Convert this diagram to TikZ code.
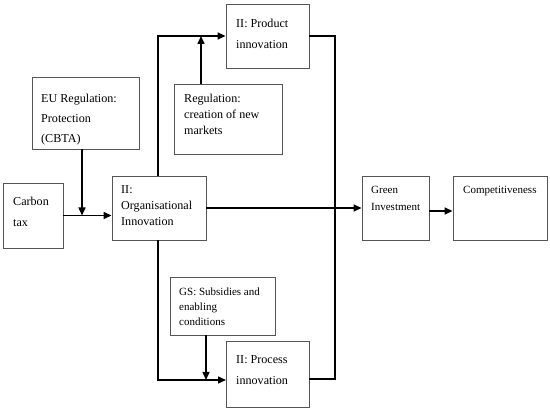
\documentclass[tikz,border=0pt]{standalone}
\usepackage{fontspec}
\setmainfont{Liberation Serif}
\usetikzlibrary{arrows.meta,calc}
\definecolor{boxgray}{HTML}{555555}
\begin{document}
\begin{tikzpicture}[x=1pt,y=-1pt,
  box/.style={draw=boxgray,line width=0.9pt,inner sep=0pt,fill=white},
  txt/.style={anchor=base west,inner sep=0pt,font=\fontsize{11}{13}\selectfont},
  txtb/.style={txt,font=\fontsize{12.1}{14}\selectfont},
  conn/.style={line width=1.5pt,black},
  arr/.style={conn,-{Triangle[length=8pt,width=7pt]}}]
\useasboundingbox (0,0) rectangle (550,411);
% boxes
\node[box,minimum width=83pt,minimum height=64pt] (product) at (267.5,36) {};
\node[box,minimum width=108pt,minimum height=70pt] (reg) at (228,119) {};
\node[box,minimum width=107pt,minimum height=72pt] (eu) at (85.5,113) {};
\node[box,minimum width=60pt,minimum height=65pt] (carbon) at (33,215.5) {};
\node[box,minimum width=94pt,minimum height=64pt] (org) at (159,208) {};
\node[box,minimum width=67pt,minimum height=64pt] (green) at (395.5,208) {};
\node[box,minimum width=94pt,minimum height=64pt] (comp) at (500,208) {};
\node[box,minimum width=105pt,minimum height=58pt] (gs) at (222.5,306) {};
\node[box,minimum width=83pt,minimum height=66pt] (process) at (267.5,374) {};
% texts
\node[txtb] (t1) at (236,28) {II: Product};
\node[txtb] (t2) at (236,49) {innovation};
\node[txtb] (t3) at (184,103) {Regulation:};
\node[txtb] (t4) at (184,119) {creation of new};
\node[txtb] (t5) at (184,135) {markets};
\node[txtb] (t6) at (41,103) {EU Regulation:};
\node[txtb] (t7) at (41,123) {Protection};
\node[txtb] (t8) at (41,143) {(CBTA)};
\node[txtb] (t9) at (13,206) {Carbon};
\node[txtb] (t10) at (13,227) {tax};
\node[txtb] (t11) at (121,194) {II:};
\node[txtb] (t12) at (121,210) {Organisational};
\node[txtb] (t13) at (121,226) {Innovation};
\node[txt] (t14) at (371,194) {Green};
\node[txt] (t15) at (371,211) {Investment};
\node[txt] (t16) at (463,194) {Competitiveness};
\node[txt] (t17) at (179,296) {GS: Subsidies and};
\node[txt] (t18) at (179,311) {enabling};
\node[txt] (t19) at (179,326) {conditions};
\node[txtb] (t20) at (236,364) {II: Process};
\node[txtb] (t21) at (236,385) {innovation};
% junction coordinates
\coordinate (j1) at (201,36);
\coordinate (pin) at (226,380);
\coordinate (pout) at (309,379);
\coordinate (bus) at (335,379);
% connectors
\draw[arr] ([xshift=-1pt]org.north) |- (product.west);
\draw[arr] (reg.north -| j1) -- (j1);
\draw[conn] (product.east) -| (bus) -- (pout);
\draw[arr] (org.east) -- (green.west);
\draw[arr] ([yshift=-3pt]green.east) -- ([yshift=-3pt]comp.west);
\draw[arr] (carbon.east) -- (carbon.east -| org.west);
\draw[arr] ([xshift=-3.5pt]eu.south) -- ([xshift=-3.5pt]eu.south |- carbon.east);
\draw[arr] ([xshift=-1pt]org.south) |- (pin);
\draw[arr] ([xshift=-16.5pt]gs.south) -- ([xshift=-16.5pt]gs.south |- pin);
\end{tikzpicture}
\end{document}
